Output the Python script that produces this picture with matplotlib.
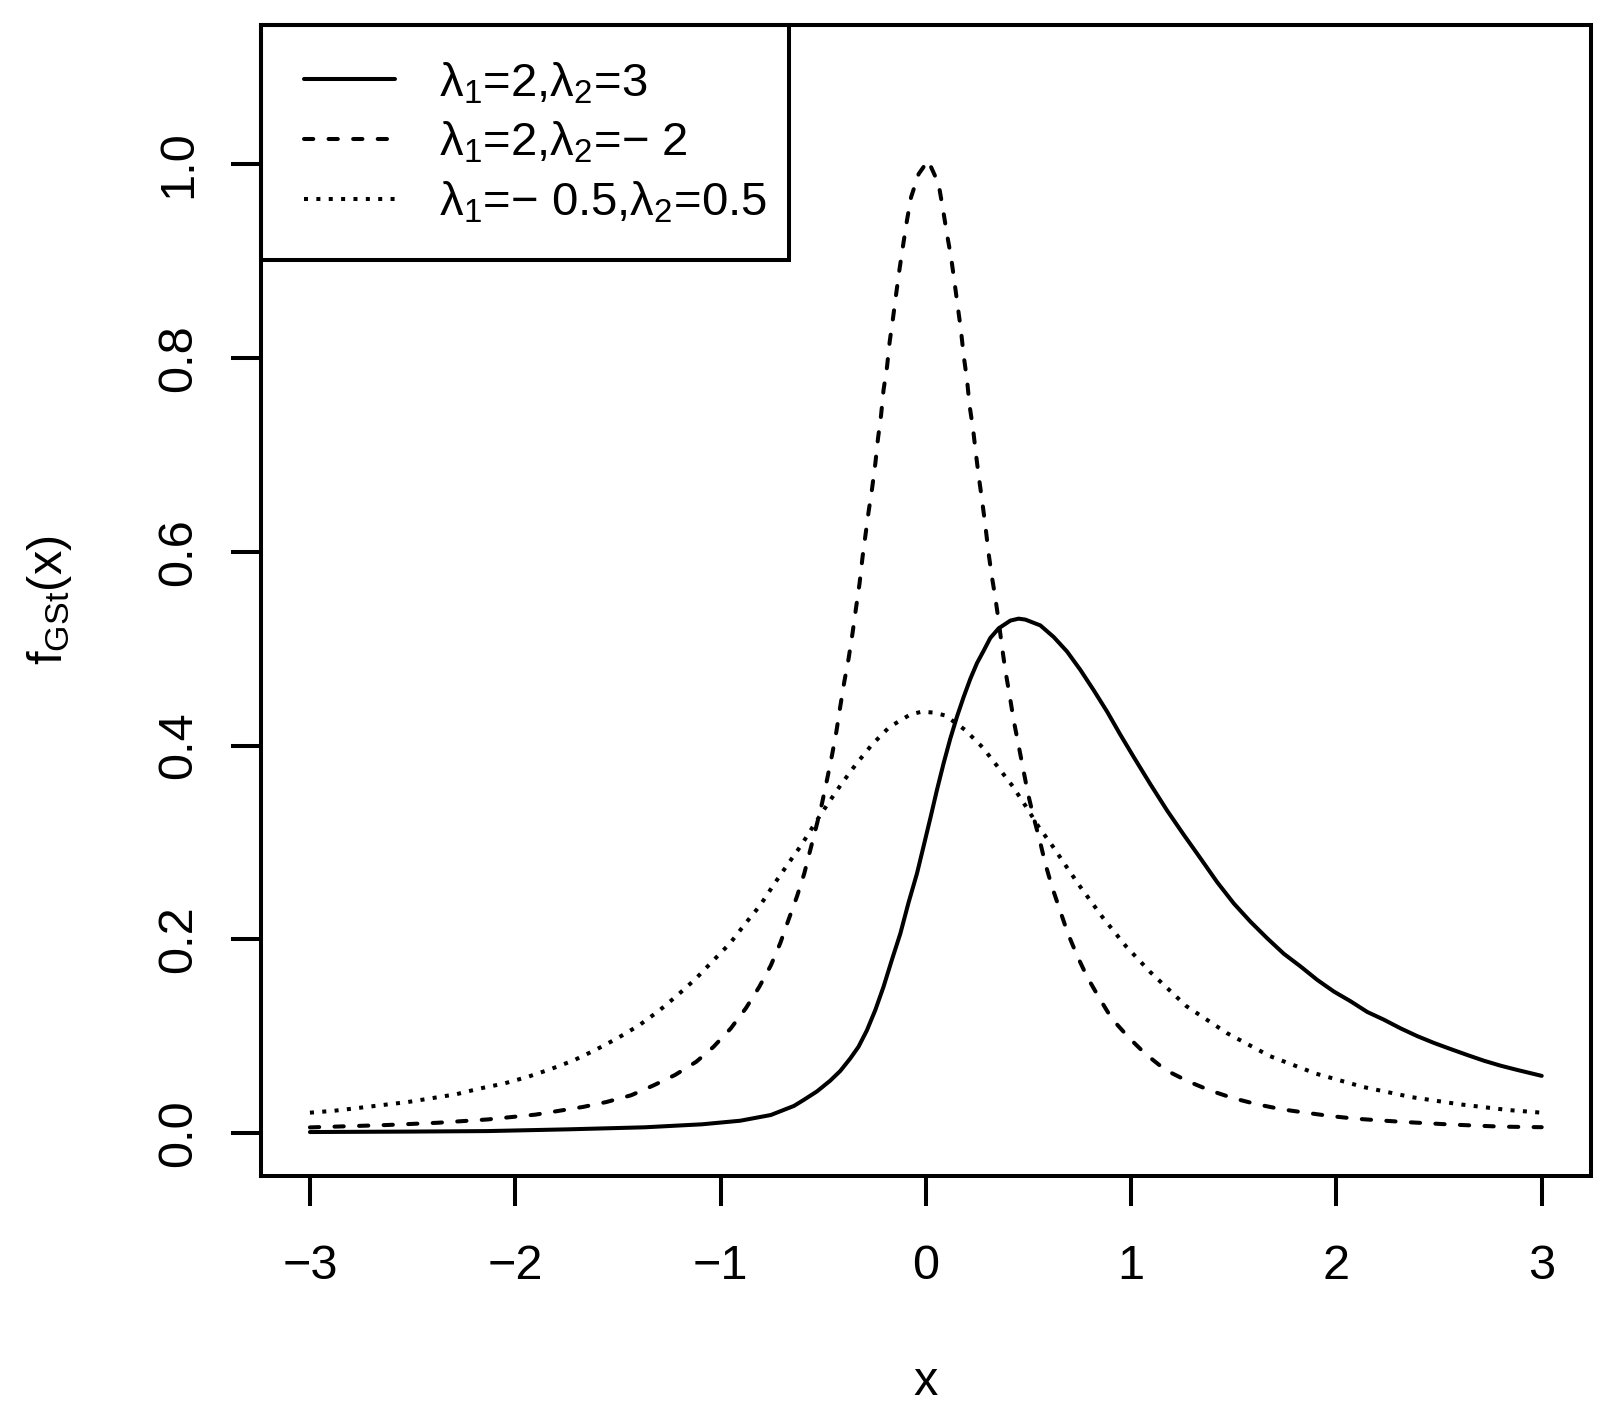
import numpy as np
import matplotlib
matplotlib.use("Agg")
import matplotlib.pyplot as plt
from matplotlib.patches import Rectangle

plt.rcParams["font.family"] = ["Liberation Sans", "DejaVu Sans"]
plt.rcParams["mathtext.default"] = "regular"

# values
x_solid = [-3.0, -2.5, -2.135, -1.743, -1.37, -1.09, -0.904, -0.755, -0.642, -0.596, -0.530,
           -0.466, -0.417, -0.368, -0.328, -0.287, -0.246, -0.206, -0.165, -0.124, -0.084,
           -0.043, -0.011, 0.022, 0.054, 0.087, 0.119, 0.152, 0.184, 0.217, 0.249, 0.282,
           0.314, 0.355, 0.412, 0.452, 0.485, 0.558, 0.623, 0.688, 0.753, 0.818, 0.883,
           0.948, 1.013, 1.094, 1.175, 1.256, 1.338, 1.419, 1.500, 1.582, 1.663, 1.744,
           1.825, 1.907, 1.988, 2.069, 2.150, 2.231, 2.313, 2.394, 2.475, 2.556, 2.638,
           2.719, 2.800, 2.881, 3.0]
y_solid = [0.001, 0.0015, 0.002, 0.0038, 0.0059, 0.009, 0.0127, 0.0186, 0.028, 0.034, 0.043,
           0.054, 0.064, 0.077, 0.089, 0.106, 0.127, 0.151, 0.179, 0.206, 0.238,
           0.268, 0.296, 0.325, 0.354, 0.382, 0.407, 0.430, 0.450, 0.469, 0.485, 0.498,
           0.511, 0.521, 0.529, 0.531, 0.530, 0.524, 0.512, 0.497, 0.478, 0.457, 0.435,
           0.411, 0.388, 0.360, 0.333, 0.308, 0.2835, 0.259, 0.237, 0.218, 0.201, 0.185,
           0.172, 0.158, 0.146, 0.136, 0.125, 0.117, 0.108, 0.100, 0.093, 0.0867, 0.0805,
           0.0746, 0.0695, 0.0651, 0.059]

x_dash = [-3.0, -2.62, -2.377, -2.135, -1.901, -1.668, -1.556, -1.435, -1.323, -1.221,
          -1.118, -1.034, -0.950, -0.876, -0.811, -0.755, -0.709, -0.669, -0.628, -0.592,
          -0.563, -0.534, -0.506, -0.482, -0.457, -0.436, -0.417, -0.397, -0.376, -0.357,
          -0.340, -0.323, -0.308, -0.279, -0.262, -0.246, -0.233, -0.218, -0.206, -0.189,
          -0.176, -0.160, -0.144, -0.128, -0.111, -0.092, -0.072, -0.035, 0.011, 0.062,
          0.084, 0.103, 0.123, 0.140, 0.155, 0.171, 0.184, 0.201, 0.213, 0.230, 0.243,
          0.257, 0.274, 0.290, 0.306, 0.322, 0.339, 0.355, 0.371, 0.387, 0.408, 0.428,
          0.452, 0.474, 0.498, 0.525, 0.555, 0.582, 0.615, 0.650, 0.692, 0.735, 0.786,
          0.846, 0.906, 0.991, 1.068, 1.167, 1.281, 1.387, 1.500, 1.614, 1.736, 1.850,
          1.971, 2.093, 2.207, 2.329, 2.450, 2.564, 2.686, 2.800, 2.927, 3.0]
y_dash = [0.0058, 0.0083, 0.0106, 0.014, 0.019, 0.027, 0.032, 0.039, 0.0495, 0.060,
          0.0736, 0.089, 0.108, 0.129, 0.151, 0.173, 0.196, 0.220, 0.244, 0.268,
          0.292, 0.316, 0.340, 0.364, 0.390, 0.414, 0.440, 0.466, 0.490, 0.516,
          0.542, 0.567, 0.595, 0.641, 0.665, 0.691, 0.717, 0.741, 0.767, 0.791,
          0.817, 0.841, 0.867, 0.892, 0.916, 0.942, 0.966, 0.990, 1.004, 0.980,
          0.953, 0.928, 0.904, 0.878, 0.854, 0.829, 0.803, 0.777, 0.751, 0.727, 0.703,
          0.679, 0.653, 0.627, 0.598, 0.574, 0.552, 0.528, 0.502, 0.478, 0.452, 0.426,
          0.400, 0.376, 0.350, 0.326, 0.302, 0.278, 0.254, 0.232, 0.206, 0.184, 0.161,
          0.139, 0.118, 0.098, 0.082, 0.0651, 0.053, 0.0437, 0.0358, 0.0296, 0.0244, 0.0210,
          0.0175, 0.0148, 0.0131, 0.0114, 0.0100, 0.0087, 0.0076, 0.0066, 0.0062, 0.006]

x_dot = [-3.0, -2.881, -2.760, -2.642, -2.523, -2.405, -2.288, -2.172, -2.056, -1.939,
         -1.827, -1.715, -1.607, -1.501, -1.398, -1.301, -1.211, -1.122, -1.038, -0.953,
         -0.880, -0.807, -0.742, -0.674, -0.607, -0.539, -0.477, -0.409, -0.339, -0.262,
         -0.178, -0.076, -0.019, 0.038, 0.095, 0.192, 0.277, 0.347, 0.423, 0.488, 0.550,
         0.618, 0.688, 0.753, 0.860, 0.974, 1.094, 1.269, 1.468, 1.676, 1.902, 2.131,
         2.364, 2.602, 2.838, 3.0]
y_dot = [0.021, 0.023, 0.026, 0.029, 0.032, 0.036, 0.040, 0.046, 0.051, 0.058,
         0.066, 0.075, 0.086, 0.098, 0.111, 0.126, 0.142, 0.159, 0.1775, 0.196,
         0.216, 0.235, 0.256, 0.277, 0.297, 0.320, 0.340, 0.361, 0.381, 0.401,
         0.419, 0.432, 0.435, 0.434, 0.431, 0.416, 0.398, 0.379, 0.358, 0.337, 0.316,
         0.296, 0.274, 0.254, 0.223, 0.193, 0.166, 0.131, 0.103, 0.0794, 0.0612, 0.0475,
         0.0371, 0.0296, 0.0237, 0.021]

labels = ["\u03bb$_1$=2,\u03bb$_2$=3",
          "\u03bb$_1$=2,\u03bb$_2$=\u2212 2",
          "\u03bb$_1$=\u2212 0.5,\u03bb$_2$=0.5"]
x_ticks = [-3, -2, -1, 0, 1, 2, 3]
y_ticks = [0.0, 0.2, 0.4, 0.6, 0.8, 1.0]

lw = 2.9
fig = plt.figure(figsize=(16.19, 14.19), dpi=100)
ax = fig.add_axes([0.161, 0.1715, 0.8217, 0.811])

l1, = ax.plot(x_solid, y_solid, color="black", lw=lw, solid_capstyle="round",
              solid_joinstyle="round")
l2, = ax.plot(x_dash, y_dash, color="black", lw=lw, dashes=(2.3, 3.8),
              dash_capstyle="round", dash_joinstyle="round")
l3, = ax.plot(x_dot, y_dot, color="black", lw=lw, dashes=(1.0, 2.07),
              dash_capstyle="butt")

ax.set_xlim(-3.24, 3.24)
ax.set_ylim(-0.044, 1.144)
ax.set_xticks(x_ticks)
ax.set_xticklabels([f"{t:d}".replace("-", "\u2212") for t in x_ticks])
ax.set_yticks(y_ticks)
ax.set_yticklabels([f"{t:.1f}" for t in y_ticks])
for sp in ax.spines.values():
    sp.set_linewidth(lw)
ax.tick_params(direction="out", length=21.6, width=lw, labelsize=35)
ax.tick_params(axis="x", pad=27.5)
ax.tick_params(axis="y", pad=21)
for t in ax.get_yticklabels():
    t.set_rotation(90)
    t.set_va("center")
    t.set_ha("right")

ax.set_xlabel("x", fontsize=35)
ax.xaxis.set_label_coords(0.5, -0.1907)
ax.xaxis.label.set_va("baseline")
ax.set_ylabel("f$_{GSt}$(x)", fontsize=35)
ax.yaxis.set_label_coords(-0.1495, 0.5)
ax.yaxis.label.set_va("baseline")

# legend box flush with the top-left corner, as in R
ax.add_patch(Rectangle((0, 0.7958), 0.397, 0.2042, transform=ax.transAxes,
                       fill=False, lw=lw, ec="black", zorder=5, clip_on=False))
leg = ax.legend([l1, l2, l3], labels, loc="upper left", bbox_to_anchor=(0.0326, 0.969),
                frameon=False, fontsize=34, borderaxespad=0, borderpad=0,
                handlelength=1.93, handletextpad=0.92, labelspacing=0.3)

fig.savefig("out.png", dpi=100)
